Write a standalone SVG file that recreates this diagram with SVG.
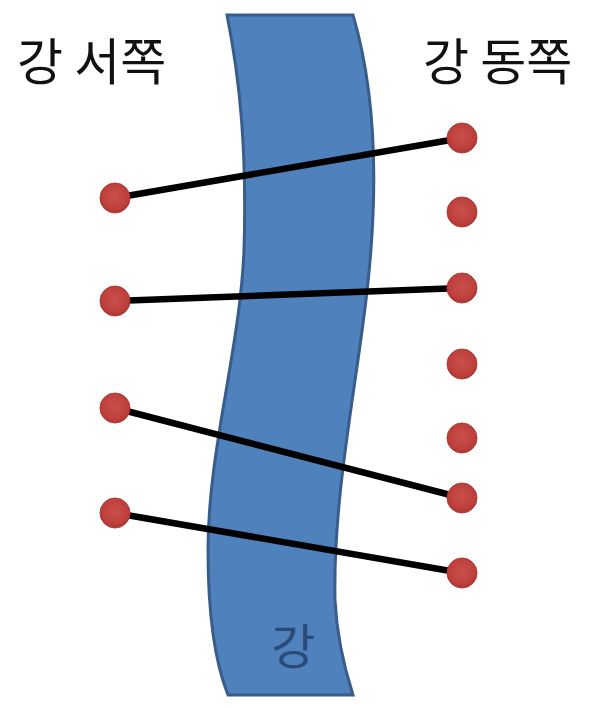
<svg xmlns="http://www.w3.org/2000/svg" width="616" height="708" viewBox="0 0 616 708">
<defs>
<radialGradient id="dotg" cx="50%" cy="45%" r="55%">
<stop offset="0" stop-color="#C8504B"/>
<stop offset="0.75" stop-color="#BF403C"/>
<stop offset="1" stop-color="#A93531"/>
</radialGradient>
</defs>
<style>
.lbl{font-family:"Noto Sans CJK KR","Noto Sans",sans-serif;font-size:50px;font-weight:400;fill:#111111}
.river{fill:#4F81BD;stroke:#385D8A;stroke-width:3}
.rlbl{font-family:"Noto Sans CJK KR","Noto Sans",sans-serif;font-size:48px;font-weight:400;fill:#2A4A78}
.dot{fill:url(#dotg);stroke:#B23A36;stroke-width:1}
.conn{stroke:#000000;stroke-width:6.5;stroke-linecap:round}
</style>
<rect width="616" height="708" fill="#FFFFFF"/>
<g id="river">
<path class="river" d="M227,15 L353,15 C378,100 378,200 366,300 C354,400 333,500 335,600 C337,640 345,670 353,695 L228,695 C214,660 208,610 208,550 C208,450 240,350 244,250 C247,150 240,80 227,15 Z"/>
<text class="rlbl" x="293" y="664" text-anchor="middle">강</text>
</g>
<g id="label-west"><text class="lbl" x="17" y="80">강 서쪽</text></g>
<g id="label-east"><text class="lbl" x="423" y="80">강 동쪽</text></g>
<g id="connectors">
<line class="conn" x1="115" y1="198" x2="462" y2="138"/>
<line class="conn" x1="115" y1="301" x2="462" y2="288"/>
<line class="conn" x1="115" y1="408" x2="462" y2="498"/>
<line class="conn" x1="115" y1="513" x2="462" y2="573"/>
</g>
<g id="w1"><circle class="dot" cx="115" cy="198" r="15"/></g>
<g id="w2"><circle class="dot" cx="115" cy="301" r="15"/></g>
<g id="w3"><circle class="dot" cx="115" cy="408" r="15"/></g>
<g id="w4"><circle class="dot" cx="115" cy="513" r="15"/></g>
<g id="e1"><circle class="dot" cx="462" cy="138" r="15"/></g>
<g id="e2"><circle class="dot" cx="462" cy="212" r="15"/></g>
<g id="e3"><circle class="dot" cx="462" cy="288" r="15"/></g>
<g id="e4"><circle class="dot" cx="462" cy="364" r="15"/></g>
<g id="e5"><circle class="dot" cx="462" cy="438" r="15"/></g>
<g id="e6"><circle class="dot" cx="462" cy="498" r="15"/></g>
<g id="e7"><circle class="dot" cx="462" cy="573" r="15"/></g>
</svg>
